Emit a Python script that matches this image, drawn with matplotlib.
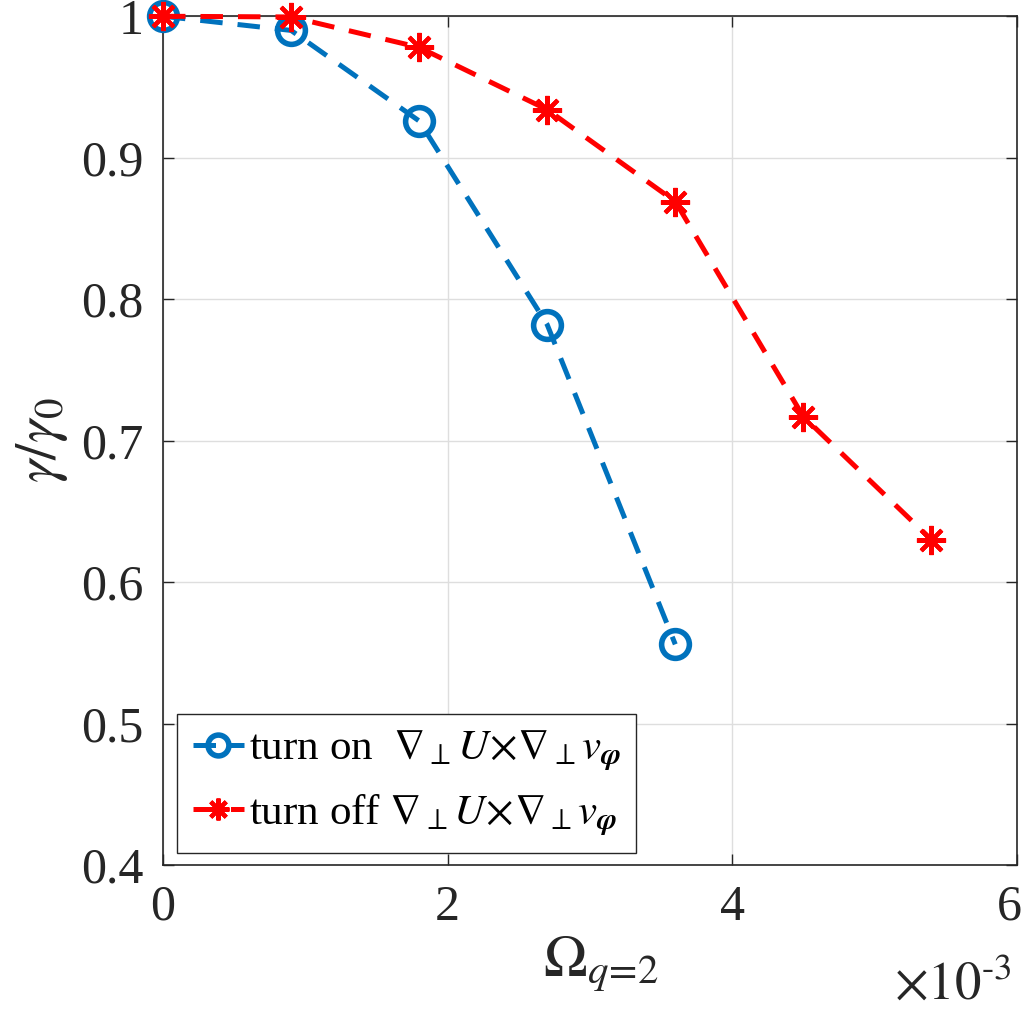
import matplotlib
matplotlib.use("Agg")
import matplotlib.pyplot as plt
from matplotlib.transforms import ScaledTranslation

# Data (x in units of 1e-3)
omega_on = [0.0, 0.9, 1.8, 2.7, 3.6]
gamma_on = [1.0, 0.990, 0.926, 0.782, 0.556]
omega_off = [0.0, 0.9, 1.8, 2.7, 3.6, 4.5, 5.4]
gamma_off = [1.0, 0.9995, 0.978, 0.934, 0.869, 0.717, 0.630]
xticks = [0, 2, 4, 6]
yticks = [0.4, 0.5, 0.6, 0.7, 0.8, 0.9, 1.0]
ytick_labels = ["0.4", "0.5", "0.6", "0.7", "0.8", "0.9", "1"]
label_on = r"turn on  $\nabla_{\perp}U\!\times\!\nabla_{\perp}v_{\mathbfit{\varphi}}$"
label_off = r"turn off $\nabla_{\perp}U\!\times\!\nabla_{\perp}v_{\mathbfit{\varphi}}$"

plt.rcParams['font.family'] = ['Liberation Serif', 'DejaVu Serif']
plt.rcParams['mathtext.fontset'] = 'stix'

fig = plt.figure(figsize=(10.25, 10.16), dpi=100)
ax = fig.add_axes([0.159, 0.1486, 0.833, 0.8354])

blue = '#0072BD'
red = '#FF0000'
dash = (0, (4.5, 3.0))
ax.plot(omega_on, gamma_on, linestyle=dash, color=blue, lw=3.6,
        marker='o', markersize=20, markerfacecolor='none', markeredgewidth=4,
        label=label_on, zorder=3, clip_on=False)
ax.plot(omega_off, gamma_off, linestyle=dash, color=red, lw=3.6,
        marker=(8, 2, 0), markersize=21, markeredgewidth=3.0,
        label=label_off, zorder=4, clip_on=False)

ax.set_xlim(0, 6)
ax.set_ylim(0.4, 1.0)
ax.set_xticks(xticks)
ax.set_xticklabels([str(t) for t in xticks])
ax.set_yticks(yticks)
ax.set_yticklabels(ytick_labels)
ax.tick_params(direction='in', length=8, width=1, labelsize=36, pad=14,
               top=True, right=True, colors='#262626')
ax.grid(True, color='#DEDEDE', lw=1)
ax.set_axisbelow(True)
for s in ax.spines.values():
    s.set_color('#262626')
    s.set_linewidth(1.2)

# keep last x tick label inside the figure
lbl = ax.get_xticklabels()[-1]
lbl.set_transform(lbl.get_transform() + ScaledTranslation(-0.07, 0, fig.dpi_scale_trans))

ax.set_ylabel(r"$\gamma/\gamma_0$", fontsize=42, labelpad=8, color='#262626')
fig.text(0.53, 0.022, r"$\Omega_{q\!=\!2}$", fontsize=42, color='#262626',
         ha='left', va='bottom')
fig.text(0.987, 0.006, r"$\times10^{\text{-}3}$", fontsize=38, color='#262626',
         ha='right', va='bottom')

leg = ax.legend(loc='lower left', bbox_to_anchor=(0.017, 0.014), fontsize=31,
                handlelength=1.2, handletextpad=0.1, borderpad=0.35,
                labelspacing=0.45, fancybox=False, framealpha=1,
                edgecolor='#262626', borderaxespad=0, markerscale=0.75)
leg.get_frame().set_linewidth(1.0)

fig.savefig("out.png", dpi=100)
